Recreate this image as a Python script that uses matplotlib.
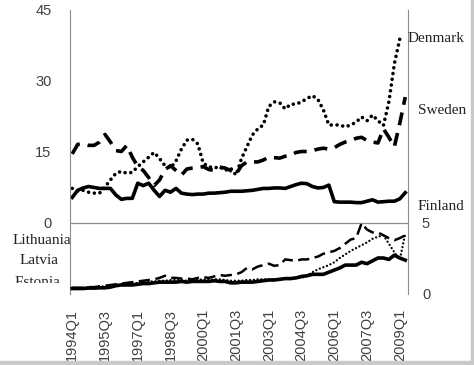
import numpy as np
import matplotlib
matplotlib.use("Agg")
import matplotlib.pyplot as plt
from matplotlib.transforms import Bbox

# quarters 1994Q1 .. 2009Q2
quarters = [f"{y}Q{q}" for y in range(1994, 2010) for q in range(1, 5)][:62]
tick_every = 6

# upper panel (left axis)
denmark = [7.2, 6.6, 6.8, 6.4, 6.2, 6.2, 7.5, 9.0, 10.4, 10.8, 10.4, 10.6, 11.8, 12.8, 13.8, 14.8,
           13.5, 12.0, 11.5, 13.0, 15.5, 17.4, 17.6, 16.6, 12.5, 11.8, 11.5, 11.8, 11.0, 11.5, 10.0,
           13.5, 16.0, 18.5, 19.8, 20.6, 24.5, 25.5, 25.3, 24.0, 25.0, 25.0, 25.5, 26.2, 26.8, 26.0,
           23.8, 20.6, 20.6, 20.6, 20.2, 20.6, 21.2, 22.3, 21.5, 22.7, 21.5, 20.5, 25.5, 33.5, 38.8,
           np.nan]
sweden = [14.5, 16.5, 16.6, 16.3, 16.3, 17.0, 18.6, 17.0, 15.2, 15.0, 16.3, 13.8, 11.8, 11.0, 9.5,
          7.8, 9.0, 11.2, 12.0, 11.0, 10.0, 11.3, 11.5, 11.6, 11.8, 11.2, 11.0, 11.7, 11.5, 11.0, 10.2,
          12.0, 12.8, 12.8, 12.8, 13.2, 13.8, 13.7, 13.6, 14.0, 14.2, 14.8, 15.0, 15.0, 15.2, 15.5,
          15.7, 15.5, 15.8, 16.5, 17.0, 17.3, 17.8, 18.0, 17.3, 17.0, 16.8, 19.8, 18.0, 16.0, 21.0,
          26.5]
finland = [5.3, 6.8, 7.3, 7.6, 7.4, 7.2, 7.2, 7.2, 5.8, 4.9, 5.1, 5.1, 8.3, 7.8, 8.3, 6.8, 5.5, 6.8,
           6.4, 7.2, 6.2, 6.0, 5.9, 6.0, 6.0, 6.2, 6.2, 6.3, 6.4, 6.6, 6.6, 6.6, 6.7, 6.8, 7.0, 7.2,
           7.2, 7.3, 7.3, 7.2, 7.6, 8.0, 8.3, 8.2, 7.6, 7.3, 7.4, 7.9, 4.4, 4.3, 4.3, 4.3, 4.2, 4.2,
           4.5, 4.8, 4.3, 4.4, 4.5, 4.5, 5.0, 6.3]

# lower panel (right axis)
baltic_solid = [0.35, 0.35, 0.35, 0.38, 0.38, 0.4, 0.4, 0.45, 0.55, 0.6, 0.6, 0.6, 0.65, 0.7, 0.7,
                0.75, 0.8, 0.8, 0.8, 0.8, 0.85, 0.8, 0.85, 0.85, 0.85, 0.85, 0.9, 0.85, 0.85, 0.75,
                0.75, 0.8, 0.8, 0.8, 0.85, 0.9, 0.95, 0.95, 1.0, 1.05, 1.05, 1.1, 1.2, 1.25, 1.35,
                1.35, 1.35, 1.5, 1.65, 1.8, 2.0, 2.0, 2.0, 2.2, 2.1, 2.3, 2.5, 2.5, 2.4, 2.7, 2.5,
                2.35]
baltic_dotted = [0.4, 0.4, 0.4, 0.45, 0.45, 0.5, 0.5, 0.55, 0.6, 0.65, 0.7, 0.7, 0.75, 0.8, 0.85,
                 0.85, 0.9, 0.9, 0.95, 0.95, 0.95, 0.9, 0.95, 0.95, 1.0, 0.95, 1.0, 1.0, 0.95, 0.9,
                 0.9, 0.9, 0.95, 0.95, 1.0, 1.0, 1.0, 1.0, 1.0, 1.05, 1.05, 1.1, 1.1, 1.25, 1.5,
                 1.7, 1.85, 2.0, 2.2, 2.5, 2.75, 3.0, 3.2, 3.4, 3.6, 3.85, 4.0, 4.1, 3.5, 2.9, 2.4,
                 4.2]
baltic_dashed = [0.4, 0.4, 0.4, 0.45, 0.45, 0.5, 0.55, 0.6, 0.65, 0.7, 0.75, 0.8, 0.85, 0.9, 0.95,
                 1.0, 1.1, 1.25, 1.1, 1.1, 1.05, 1.05, 1.0, 1.1, 1.15, 1.1, 1.2, 1.3, 1.25, 1.3,
                 1.35, 1.5, 1.8, 1.7, 1.9, 2.0, 2.1, 1.95, 2.0, 2.4, 2.35, 2.3, 2.4, 2.4, 2.5, 2.6,
                 2.8, 2.9, 3.0, 3.2, 3.5, 3.8, 3.9, 4.95, 4.5, 4.3, 4.3, 4.1, 3.9, 3.75, 3.9, 4.1]

W, H = 474, 365
fig = plt.figure(figsize=(W / 100, H / 100), dpi=100)
ax = fig.add_axes([69.5 / W, 1 - 293.5 / H, (408 - 69.5) / W, (293.5 - 9.5) / H])
ax2 = ax.twinx()

x = np.arange(len(quarters))
ax.plot(x, denmark, color="black", lw=2.6, linestyle=(0, (0.01, 1.6)), dash_capstyle="round")
ax.plot(x, sweden, color="black", lw=2.6, linestyle=(0, (3.6, 2.2)))
ax.plot(x, finland, color="black", lw=2.6)
ax.axhline(0, color="#8c8c8c", lw=0.9)

ax2.plot(x, baltic_solid, color="black", lw=2.6)
ax2.plot(x, baltic_dotted, color="black", lw=1.7, linestyle=(0, (0.01, 1.6)), dash_capstyle="round")
ax2.plot(x, baltic_dashed, color="black", lw=1.8, linestyle=(0, (4.5, 2.2)))

ax.set_xlim(-0.5, len(quarters) - 0.5)
ax.set_ylim(-15, 45)
ax.set_yticks([0, 15, 30, 45])
ax2.set_ylim(0, 20)
ax2.set_yticks([0, 5])
ax.set_xticks(x[::tick_every])
ax.set_xticklabels(quarters[::tick_every], rotation=90, va="top")

for a in (ax, ax2):
    for s in a.spines.values():
        s.set_visible(False)
ax.spines["left"].set_visible(True)
ax.spines["left"].set_color("#8c8c8c")
ax2.spines["right"].set_visible(True)
ax2.spines["right"].set_color("#8c8c8c")

ax.tick_params(axis="y", length=0, pad=13, labelcolor="#404040")
ax.tick_params(axis="x", length=0, pad=11, labelcolor="#404040")
ax2.tick_params(axis="y", length=0, pad=10, labelcolor="#404040")
for lbl in ax.get_yticklabels() + ax.get_xticklabels() + ax2.get_yticklabels():
    lbl.set_fontfamily("Liberation Sans")
    lbl.set_fontsize(10.5)

serif = dict(family="Liberation Serif", size=11, color="#222222")
fig.text(408 / W, 1 - 38 / H, "Denmark", ha="left", va="center", **serif)
fig.text(418 / W, 1 - 110 / H, "Sweden", ha="left", va="center", **serif)
fig.text(418 / W, 1 - 207 / H, "Finland", ha="left", va="center", **serif)
fig.text(13 / W, 1 - 241 / H, "Lithuania", ha="left", va="center", **serif)
fig.text(20 / W, 1 - 260 / H, "Latvia", ha="left", va="center", **serif)
# the Estonia label is cut off along its bottom in the original
est = fig.text(15 / W, 1 - 285.5 / H, "Estonia", ha="left", va="baseline", **serif)
est.set_clip_box(Bbox([[0, H - 283], [69, H]]))
est.set_clip_on(True)

# light gray frame of the screenshot
fig.patches.append(plt.Rectangle((471 / W, 0), 3 / W, 1, transform=fig.transFigure,
                                 color="#c9c9c9", zorder=0))
fig.patches.append(plt.Rectangle((0, 0), 1, 4 / H, transform=fig.transFigure,
                                 color="#c9c9c9", zorder=0))

fig.savefig("out.png", dpi=100)
